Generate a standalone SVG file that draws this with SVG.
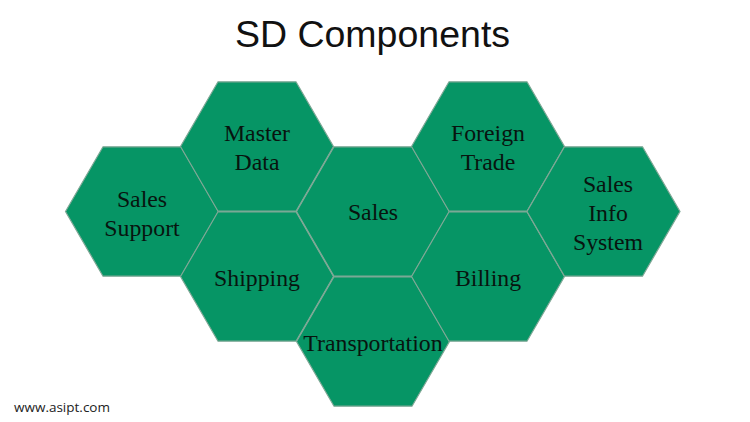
<svg xmlns="http://www.w3.org/2000/svg" width="750" height="422" viewBox="0 0 750 422">
<style>
.hex{fill:#069565;stroke:#7fa896;stroke-width:1.2}
.t{font-family:"Liberation Serif",serif;font-size:23.8px;fill:#08140f;text-anchor:middle}
</style>
<defs><polygon id="h" points="-76.500,0 -39,-64.700 39,-64.700 76.500,0 39,64.700 -39,64.700"/></defs>
<rect width="750" height="422" fill="#fff"/>
<text x="372.500" y="47" style="font-family:'Liberation Sans',sans-serif;font-size:37.500px;fill:#111;text-anchor:middle">SD Components</text>
<g id="node-sales-support"><use href="#h" class="hex" x="142" y="211.500"/><text class="t" x="142" y="207">Sales</text><text class="t" x="142" y="236">Support</text></g>
<g id="node-master-data"><use href="#h" class="hex" x="257" y="146.500"/><text class="t" x="257" y="141">Master</text><text class="t" x="257" y="170">Data</text></g>
<g id="node-shipping"><use href="#h" class="hex" x="257" y="276.500"/><text class="t" x="257" y="286">Shipping</text></g>
<g id="node-sales"><use href="#h" class="hex" x="373" y="211.500"/><text class="t" x="373" y="220">Sales</text></g>
<g id="node-transportation"><use href="#h" class="hex" x="373" y="341.500"/><text class="t" x="373" y="351">Transportation</text></g>
<g id="node-foreign-trade"><use href="#h" class="hex" x="488" y="146.500"/><text class="t" x="488" y="141">Foreign</text><text class="t" x="488" y="170">Trade</text></g>
<g id="node-billing"><use href="#h" class="hex" x="488" y="276.500"/><text class="t" x="488" y="286">Billing</text></g>
<g id="node-sales-info-system"><use href="#h" class="hex" x="603.500" y="211.500"/><text class="t" x="608" y="192">Sales</text><text class="t" x="608" y="221">Info</text><text class="t" x="608" y="250">System</text></g>
<text x="14" y="412" style="font-family:'Open Sans',sans-serif;font-size:13.500px;fill:#222">www.asipt.com</text>
</svg>
